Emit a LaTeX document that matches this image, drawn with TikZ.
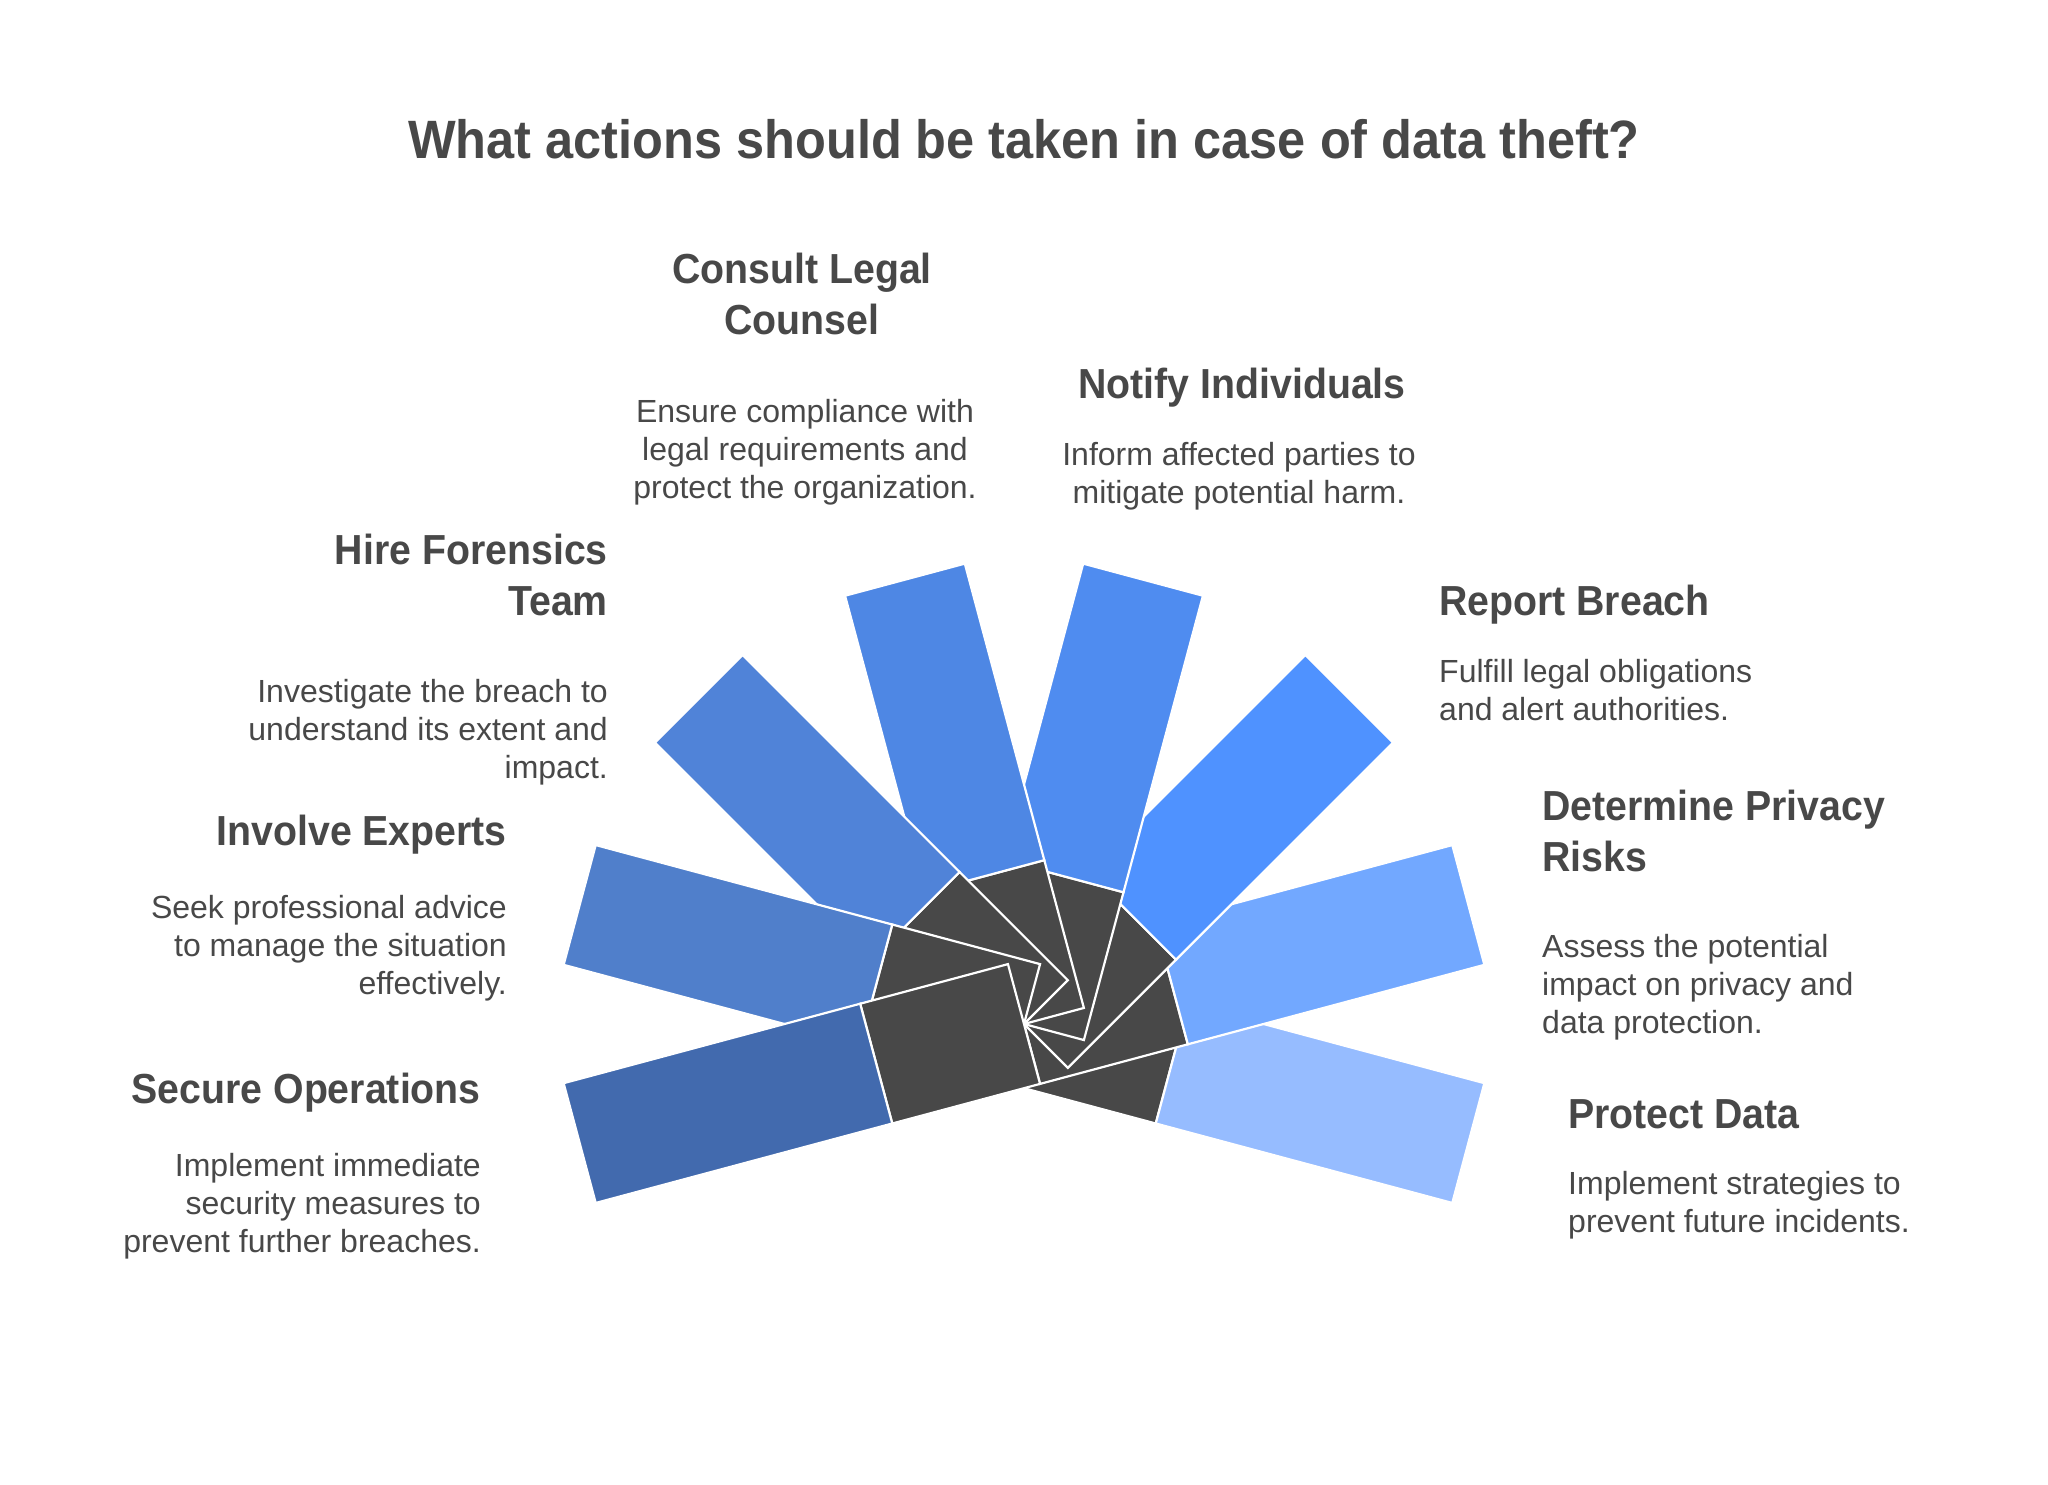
\documentclass[tikz,border=0pt]{standalone}
\usepackage{fontspec}
\setmainfont{Liberation Sans}
\newfontfamily\headfont[FakeStretch=0.935]{Liberation Sans}
\definecolor{txt}{HTML}{484848}
\definecolor{dark}{HTML}{484848}
\definecolor{cP}{HTML}{96BCFF}
\definecolor{cD}{HTML}{72A8FF}
\definecolor{cR}{HTML}{4F92FF}
\definecolor{cN}{HTML}{4F8CF0}
\definecolor{cC}{HTML}{4E87E4}
\definecolor{cH}{HTML}{5083D8}
\definecolor{cI}{HTML}{507FCB}
\definecolor{cS}{HTML}{426AAE}
\tikzset{
  titletext/.style={font=\headfont\bfseries\fontsize{54}{64}\selectfont, text=txt, inner sep=0pt},
  head/.style={font=\headfont\bfseries\fontsize{42}{51.5}\selectfont, text=txt, inner sep=0pt},
  body/.style={font=\fontsize{32}{38}\selectfont, text=txt, inner sep=0pt},
  bar/.style={draw=white, line width=2.2pt, line join=miter},
}
\newcommand{\blkR}[1]{\begin{tabular}[t]{@{}r@{}}#1\end{tabular}}
\newcommand{\blkL}[1]{\begin{tabular}[t]{@{}l@{}}#1\end{tabular}}
\newcommand{\blkC}[1]{\begin{tabular}[t]{@{}c@{}}#1\end{tabular}}
\begin{document}
\begin{tikzpicture}[x=1pt,y=-1pt]
  \useasboundingbox (0,0) rectangle (2048,1485);
  \fill[white] (0,0) rectangle (2048,1485);

  % title
  \node[titletext, anchor=base] (title) at (1024,159) {What actions should be taken in case of data theft?};

  % fan of bars
  \coordinate (pivot) at (1024,1024);
  \foreach \ang/\col in {-15/cP,15/cD,45/cR,75/cN,105/cC,135/cH,165/cI,195/cS} {
    \begin{scope}[shift={(pivot)}, rotate=\ang]
      \path[bar, fill=dark] (0,-62) rectangle (153,62);
      \path[bar, fill=\col] (153,-62) rectangle (460,62);
    \end{scope}
  }

  % Consult Legal Counsel
  \node[head, anchor=base] (consultH) at (802,283) {\blkC{Consult Legal\\Counsel}};
  \node[body, anchor=base] (consultB) at (805,422) {\blkC{Ensure compliance with\\legal requirements and\\protect the organization.}};

  % Notify Individuals
  \node[head, anchor=base] (notifyH) at (1242,398) {\blkC{Notify Individuals}};
  \node[body, anchor=base] (notifyB) at (1239,465) {\blkC{Inform affected parties to\\mitigate potential harm.}};

  % Hire Forensics Team
  \node[head, anchor=base east] (hireH) at (608,564) {\blkR{Hire Forensics\\Team}};
  \node[body, anchor=base east] (hireB) at (608,702) {\blkR{Investigate the breach to\\understand its extent and\\impact.}};

  % Report Breach
  \node[head, anchor=base west] (reportH) at (1439,615) {\blkL{Report Breach}};
  \node[body, anchor=base west] (reportB) at (1439,682) {\blkL{Fulfill legal obligations\\and alert authorities.}};

  % Involve Experts
  \node[head, anchor=base east] (involveH) at (507,845) {\blkR{Involve Experts}};
  \node[body, anchor=base east] (involveB) at (507,918) {\blkR{Seek professional advice\\to manage the situation\\effectively.}};

  % Determine Privacy Risks
  \node[head, anchor=base west] (determineH) at (1542,820) {\blkL{Determine Privacy\\Risks}};
  \node[body, anchor=base west] (determineB) at (1542,957) {\blkL{Assess the potential\\impact on privacy and\\data protection.}};

  % Secure Operations
  \node[head, anchor=base east] (secureH) at (481,1103) {\blkR{Secure Operations}};
  \node[body, anchor=base east] (secureB) at (481,1176) {\blkR{Implement immediate\\security measures to\\prevent further breaches.}};

  % Protect Data
  \node[head, anchor=base west] (protectH) at (1568,1128) {\blkL{Protect Data}};
  \node[body, anchor=base west] (protectB) at (1568,1194) {\blkL{Implement strategies to\\prevent future incidents.}};
\end{tikzpicture}
\end{document}
